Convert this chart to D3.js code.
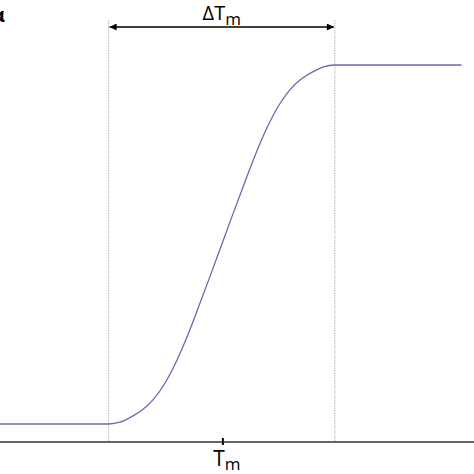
<!DOCTYPE html>
<html>
<head>
<meta charset="utf-8">
<script src="https://cdn.jsdelivr.net/npm/d3@7"></script>
<style>
  html, body { margin: 0; padding: 0; background: #fff; }
  svg { display: block; font-family: "Open Sans", "DejaVu Sans", sans-serif; }
</style>
</head>
<body>
<svg id="chart"></svg>
<script>
// temperature relative to Tm (units of half the transition width) and conversion alpha
const temps = [-1.96, -1.0, -0.9, -0.8, -0.7, -0.6, -0.5, -0.4, -0.3, -0.2, -0.1, 0,
               0.1, 0.2, 0.3, 0.4, 0.5, 0.6, 0.7, 0.8, 0.9, 1.0, 2.12];
const alphas = [0, 0, 0.005, 0.02, 0.04, 0.07, 0.115, 0.175, 0.248, 0.33, 0.414, 0.5,
                0.586, 0.67, 0.752, 0.825, 0.885, 0.93, 0.96, 0.98, 0.995, 1.0, 1.0];
const transition = [-1.0, 1.0];   // onset and end of the transition
const tmValue = 0.01;
const tmLabel = 'T';
const tmSub = 'm';
const widthLabel = 'ΔT';
const yLabel = 'α';

const width = 474, height = 474;
const svg = d3.select('#chart').attr('width', width).attr('height', height);

const x = d3.scaleLinear().domain([-1.96, 2.23]).range([0, 474]);
const y = d3.scaleLinear().domain([0, 1]).range([424, 65]);
const axisY = 442;
const topY = 20;

// dotted guide lines at the transition limits
svg.selectAll('.guide')
    .data(transition)
    .enter()
    .append('line')
    .attr('class', 'guide')
    .attr('x1', d => x(d)).attr('x2', d => x(d))
    .attr('y1', topY).attr('y2', axisY)
    .attr('stroke', '#b8b8b8')
    .attr('stroke-width', 1)
    .attr('stroke-dasharray', '1.5,1');

// the curve
const data = temps.map((t, i) => ({ t, a: alphas[i] }));
svg.append('path')
    .datum(data)
    .attr('fill', 'none')
    .attr('stroke', '#6a6ab0')
    .attr('stroke-width', 1.3)
    .attr('d', d3.line().x(d => x(d.t)).y(d => y(d.a)).curve(d3.curveMonotoneX));

// x axis with single tick at Tm
const axis = svg.append('g').attr('transform', `translate(0,${axisY})`);
axis.append('line')
    .attr('x1', 0).attr('x2', width)
    .attr('stroke', '#333').attr('stroke-width', 1.5);
axis.append('line')
    .attr('x1', x(tmValue)).attr('x2', x(tmValue))
    .attr('y1', -4).attr('y2', 3)
    .attr('stroke', '#000').attr('stroke-width', 2);
const tm = axis.append('text')
    .attr('x', x(tmValue) + 4)
    .attr('y', 24)
    .attr('text-anchor', 'middle')
    .attr('font-size', 21)
    .attr('fill', '#000');
tm.append('tspan').text(tmLabel);
tm.append('tspan').attr('font-size', 17).attr('dy', 4).text(tmSub);

// double arrow for the transition width
const defs = svg.append('defs');
['start', 'end'].forEach(k => {
    defs.append('marker')
        .attr('id', 'arrow-' + k)
        .attr('viewBox', '0 0 10 10')
        .attr('refX', 10).attr('refY', 5)
        .attr('markerWidth', 9).attr('markerHeight', 7)
        .attr('markerUnits', 'userSpaceOnUse')
        .attr('orient', 'auto-start-reverse')
        .append('path')
        .attr('d', 'M0,0 L10,5 L0,10 z')
        .attr('fill', '#000');
});
svg.append('line')
    .attr('x1', x(transition[0]) + 1).attr('x2', x(transition[1]) - 1)
    .attr('y1', 27).attr('y2', 27)
    .attr('stroke', '#000').attr('stroke-width', 1.5)
    .attr('marker-start', 'url(#arrow-start)')
    .attr('marker-end', 'url(#arrow-end)');

const dt = svg.append('text')
    .attr('x', (x(transition[0]) + x(transition[1])) / 2)
    .attr('y', 20)
    .attr('text-anchor', 'middle')
    .attr('font-size', 20)
    .attr('fill', '#000');
dt.append('tspan').text(widthLabel);
dt.append('tspan').attr('font-size', 17).attr('dy', 5).text(tmSub);

// y label, mostly cut off at the left edge
svg.append('text')
    .attr('x', 5).attr('y', 22)
    .attr('text-anchor', 'end')
    .attr('font-size', 20)
    .attr('font-weight', 'bold')
    .attr('fill', '#000')
    .text(yLabel);
</script>
</body>
</html>
